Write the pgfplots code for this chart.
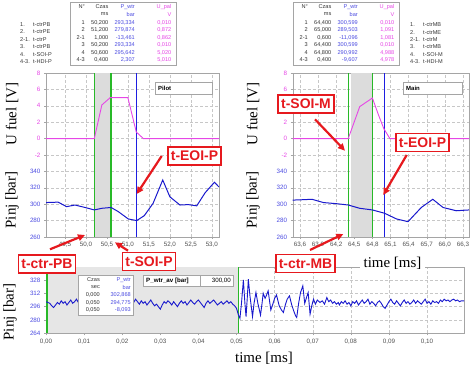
\documentclass[border=0pt]{standalone}
\usepackage{fontspec}
\setmainfont{Liberation Serif}
\newfontfamily\arial{Liberation Sans}
\usepackage{pgfplots}
\usepackage{pgfplotstable}
\pgfplotsset{compat=1.18}
\usetikzlibrary{arrows.meta}

\definecolor{pjblue}{RGB}{75,75,225}
\definecolor{ufmag}{RGB}{230,70,230}
\definecolor{trace}{RGB}{25,25,205}
\definecolor{gline}{RGB}{40,185,40}
\definecolor{bline}{RGB}{30,30,225}
\definecolor{annred}{RGB}{230,25,30}
\definecolor{framec}{RGB}{165,165,165}
\definecolor{ticktxt}{RGB}{80,80,80}
\definecolor{shadec}{RGB}{220,220,220}
\definecolor{shadeb}{RGB}{230,230,230}

\newcommand\tf{\arial\fontsize{6.3}{7}\selectfont}
\newcommand\tabf{\arial\fontsize{5.6}{6}\selectfont}
\newcommand\pj[1]{\textcolor{pjblue}{#1}}
\newcommand\uf[1]{\textcolor{ufmag}{#1}}

\pgfplotsset{panel/.style={scale only axis, axis line style={framec}, tick style={framec, line width=0.4pt},
  tick align=outside, major tick length=2bp, xtick pos=bottom, ytick pos=left,
  grid=major, major grid style={densely dashed, black!22, line width=0.35pt},
  ticklabel style={font=\tf},
  xticklabel style={text=ticktxt, /pgf/number format/fixed, /pgf/number format/fixed zerofill,
     /pgf/number format/use comma, /pgf/number format/assume math mode=true}}}

\pgfplotstableread{
t p
49.05 302
49.34 302.5
49.54 297
49.74 299
49.98 296
50.2 293
50.38 295
50.6 296
50.77 291
51.01 282
51.21 280
51.39 286
51.6 301
51.83 329.5
52.0 309
52.24 299
52.44 299.5
52.64 298
52.84 314
53.06 326.7
53.17 321
}\pilotP
\pgfplotstableread{
t u
49.05 0
50.2 0
50.38 4.1
50.58 5
51.0 5
51.2 0.8
51.37 0
53.17 0
}\pilotU
\pgfplotstableread{
t p
63.48 305
63.66 305.5
63.8 306
63.99 302
64.21 300.6
64.4 299
64.59 295
64.8 293
65.0 289
65.2 282
65.39 278.7
65.61 296
65.8 306
65.97 296
66.19 292
66.4 293
}\mainP
\pgfplotstableread{
t u
63.48 0
64.4 0
64.59 3.9
64.8 4.95
64.9 2.9
64.99 1.2
65.09 0
66.4 0
}\mainU
\pgfplotstableread{
t p
0.0000 302
0.0005 301
0.0010 300
0.0015 297
0.0020 295
0.0025 298
0.0030 301
0.0035 299
0.0040 303
0.0045 300
0.0050 302
0.0055 298
0.0060 301
0.0065 304
0.0070 300
0.0075 302
0.0080 305
0.0085 301
0.0090 299
0.0095 302
0.0100 300
0.0105 297
0.0110 301
0.0115 303
0.0120 299
0.0125 302
0.0130 305
0.0135 301
0.0140 298
0.0145 301
0.0150 303
0.0155 300
0.0160 302
0.0165 299
0.0170 296
0.0175 300
0.0180 302
0.0185 299
0.0190 301
0.0195 304
0.0200 301
0.0205 298
0.0210 300
0.0215 303
0.0220 300
0.0225 297
0.0230 301
0.0235 305
0.0240 302
0.0245 299
0.0250 303
0.0255 300
0.0260 302
0.0265 298
0.0270 301
0.0275 304
0.0280 300
0.0285 297
0.0290 299
0.0295 296
0.0300 293
0.0305 298
0.0310 302
0.0315 300
0.0320 303
0.0325 301
0.0330 298
0.0335 302
0.0340 299
0.0345 296
0.0350 300
0.0355 303
0.0360 300
0.0365 302
0.0370 298
0.0375 301
0.0380 304
0.0385 301
0.0390 299
0.0395 302
0.0400 304
0.0405 301
0.0410 298
0.0415 295
0.0420 300
0.0425 303
0.0430 300
0.0435 302
0.0440 304
0.0445 301
0.0450 298
0.0455 300
0.0460 302
0.0465 299
0.0470 301
0.0475 303
0.0480 300
0.0485 302
0.0490 299
0.0495 297
0.0500 294
0.0505 286
0.0509 282
0.0513 300
0.0518 328
0.0522 300
0.0525 284
0.0528 305
0.0531 329
0.0535 310
0.0542 284
0.0546 300
0.0551 313
0.0556 300
0.0563 286
0.0567 300
0.0570 312
0.0575 306
0.0578 309
0.0583 315
0.0590 292
0.0596 300
0.0600 306
0.0605 310
0.0612 297
0.0618 292
0.0623 289
0.0628 298
0.0633 305
0.0639 309
0.0645 298
0.0650 291
0.0655 285
0.0658 283
0.0663 300
0.0668 313
0.0674 321
0.0679 300
0.0683 306
0.0688 313
0.0693 287
0.0697 296
0.0702 305
0.0707 299
0.0712 304
0.0719 301
0.0725 303
0.0731 299
0.0737 307
0.0742 302
0.0747 304
0.0752 300
0.0757 302
0.0762 299
0.0767 301
0.0770 298
0.0775 302
0.0780 300
0.0785 303
0.0790 299
0.0795 301
0.0800 297
0.0805 302
0.0810 300
0.0815 303
0.0820 298
0.0825 301
0.0830 304
0.0835 300
0.0840 302
0.0845 305
0.0850 299
0.0855 302
0.0860 300
0.0865 297
0.0870 301
0.0875 303
0.0880 300
0.0885 296
0.0890 294
0.0895 298
0.0900 302
0.0905 305
0.0910 301
0.0915 299
0.0920 303
0.0925 300
0.0930 297
0.0935 301
0.0940 304
0.0945 300
0.0950 302
0.0955 299
0.0960 301
0.0965 304
0.0970 300
0.0975 303
0.0980 301
0.0985 299
0.0990 302
0.0995 305
0.1000 300
0.1005 302
0.1010 299
0.1015 303
0.1020 301
0.1025 302
0.1030 300
0.1035 304
0.1040 302
0.1045 305
0.1050 303
0.1055 304
0.1060 302
0.1065 304
0.1070 305
0.1075 303
0.1080 304
0.1085 302
0.1090 303
0.1097 303
}\bottomP

\newcommand\trow[6]{%
  \node[anchor=east,inner sep=0,font=\tabf,text=black!80] at ({#1+15},{381-#2}) {#3};
  \node[anchor=east,inner sep=0,font=\tabf,text=black!80] at ({#1+38.5},{381-#2}) {#4};
  \node[anchor=east,inner sep=0,font=\tabf,text=pjblue] at ({#1+65},{381-#2}) {#5};
  \node[anchor=east,inner sep=0,font=\tabf,text=ufmag] at ({#1+101.5},{381-#2}) {#6};}
\newcommand\lrow[4]{%
  \node[anchor=west,inner sep=0,font=\tabf,text=black!80] at (#1,{381-#2}) {#3};
  \node[anchor=west,inner sep=0,font=\tabf,text=black!80] at ({#1+13},{381-#2}) {#4};}

\tikzset{redbox/.style={draw=annred, line width=1.5bp, fill=white, text=annred,
   font=\arial\bfseries\fontsize{14}{14}\selectfont, inner xsep=3bp, inner ysep=4bp},
  redarr/.style={annred, line width=2.2bp, -{Triangle[length=7bp,width=6.5bp]}}}

\begin{document}
\begin{tikzpicture}
\path[use as bounding box] (0,0) rectangle (474bp,381bp);

% ---------- Pilot ----------
\begin{axis}[panel, at={(46bp,144bp)}, anchor=south west, width=173bp, height=164bp,
  xmin=49.05, xmax=53.17, ymin=260, ymax=460,
  xtick={49.5,50,50.5,51,51.5,52,52.5,53},
  xticklabel style={/pgf/number format/precision=1},
  ytick={260,280,300,320,340,360,380,400,420,440,460},
  yticklabels={\pj{260},\pj{280},\pj{300},\pj{320},\pj{340},\uf{-2},\uf{0},\uf{2},\uf{4},\uf{6},\uf{8}}]
\fill[shadec] (axis cs:50.2,260) rectangle (axis cs:50.6,460);
\draw[gline, line width=1.3bp] (axis cs:50.2,260) -- (axis cs:50.2,460);
\draw[gline, line width=1.3bp] (axis cs:50.6,260) -- (axis cs:50.6,460);
\draw[bline, line width=1.1bp] (axis cs:51.2,260) -- (axis cs:51.2,460);
\addplot[ufmag, line width=0.9bp] table[x=t, y expr=10*\thisrow{u}+380] {\pilotU};
\addplot[trace, line width=1bp] table[x=t, y=p] {\pilotP};
\end{axis}

% ---------- Main ----------
\begin{axis}[panel, at={(292.7bp,144bp)}, anchor=south west, width=176.3bp, height=164bp,
  xmin=63.48, xmax=66.4, ymin=260, ymax=460,
  xtick={63.6,63.9,64.2,64.5,64.8,65.1,65.4,65.7,66.0,66.3},
  xticklabel style={/pgf/number format/precision=1},
  ytick={260,280,300,320,340,360,380,400,420,440,460},
  yticklabels={\pj{260},\pj{280},\pj{300},\pj{320},\pj{340},\uf{-2},\uf{0},\uf{2},\uf{4},\uf{6},\uf{8}}]
\fill[shadec] (axis cs:64.45,260) rectangle (axis cs:64.8,460);
\draw[gline, line width=1.3bp] (axis cs:64.4,260) -- (axis cs:64.4,460);
\draw[gline, line width=1.3bp] (axis cs:64.8,260) -- (axis cs:64.8,460);
\draw[bline, line width=1.1bp] (axis cs:65.0,260) -- (axis cs:65.0,460);
\addplot[ufmag, line width=0.9bp] table[x=t, y expr=10*\thisrow{u}+380] {\mainU};
\addplot[trace, line width=1bp] table[x=t, y=p] {\mainP};
\end{axis}

% ---------- Bottom ----------
\begin{axis}[panel, at={(46bp,47.7bp)}, anchor=south west, width=418bp, height=66.6bp,
  xmin=0, xmax=0.1097, ymin=264, ymax=344,
  xtick={0,0.01,0.02,0.03,0.04,0.05,0.06,0.07,0.08,0.09,0.10},
  xticklabel style={/pgf/number format/precision=2},
  ytick={264,280,296,312,328},
  yticklabels={\pj{264},\pj{280},\pj{296},\pj{312},\pj{328}}]
\fill[shadeb] (axis cs:0,264) rectangle (axis cs:0.0505,344);
\draw[gline, line width=1.3bp] (axis cs:0.0003,264) -- (axis cs:0.0003,344);
\draw[gline, line width=1.3bp] (axis cs:0.0505,264) -- (axis cs:0.0505,344);
\addplot[trace, line width=0.9bp] table[x=t, y=p] {\bottomP};
\end{axis}

\begin{scope}[x=1bp,y=1bp]
% axis labels
\node[rotate=90, font=\fontsize{15}{15}\selectfont] at (12,267) {U fuel [V]};
\node[rotate=90, font=\fontsize{15}{15}\selectfont] at (12,181) {Pinj [bar]};
\node[rotate=90, font=\fontsize{15}{15}\selectfont] at (253,267) {U fuel [V]};
\node[rotate=90, font=\fontsize{15}{15}\selectfont] at (253,181) {Pinj [bar]};
\node[rotate=90, font=\fontsize{15}{15}\selectfont] at (10,69) {Pinj [bar]};
\node[fill=white, inner xsep=4bp, inner ysep=1bp, font=\fontsize{15}{15}\selectfont] at (392.5,118) {time [ms]};
\node[font=\fontsize{15}{15}\selectfont] at (264,23) {time [ms]};

% Pilot / Main boxes
\draw[framec, fill=white] (155,287) rectangle (212,299);
\node[anchor=west, inner sep=0, font=\arial\bfseries\fontsize{6}{6}\selectfont] at (158,293) {Pilot};
\draw[framec, fill=white] (403,287) rectangle (462,299);
\node[anchor=west, inner sep=0, font=\arial\bfseries\fontsize{6}{6}\selectfont] at (406,293) {Main};

% top-left table
\draw[framec, line width=0.6bp, fill=white] (70,316) rectangle (176,379);
\trow{70}{7}{N\textdegree}{Czas}{P\_wtr}{U\_pal}
\trow{70}{14.5}{}{ms}{bar}{V}
\trow{70}{22.5}{1}{50,200}{293,334}{0,010}
\trow{70}{30}{2}{51,200}{279,874}{0,872}
\trow{70}{37.5}{2-1}{1,000}{-13,461}{0,862}
\trow{70}{45}{3}{50,200}{293,334}{0,010}
\trow{70}{52.5}{4}{50,600}{295,642}{5,020}
\trow{70}{60}{4-3}{0,400}{2,307}{5,010}
\lrow{20}{24.5}{1.}{t-ctrPB}
\lrow{20}{32}{2.}{t-ctrPE}
\lrow{20}{39.5}{2-1.}{t-ctrP}
\lrow{20}{47}{3.}{t-ctrPB}
\lrow{20}{54.5}{4.}{t-SOI-P}
\lrow{20}{62}{4-3.}{t-HDI-P}

% top-right table
\draw[framec, line width=0.6bp, fill=white] (293,316) rectangle (399,379);
\trow{293}{7}{N\textdegree}{Czas}{P\_wtr}{U\_pal}
\trow{293}{14.5}{}{ms}{bar}{V}
\trow{293}{22.5}{1}{64,400}{300,599}{0,010}
\trow{293}{30}{2}{65,000}{289,503}{1,091}
\trow{293}{37.5}{2-1}{0,600}{-11,096}{1,081}
\trow{293}{45}{3}{64,400}{300,599}{0,010}
\trow{293}{52.5}{4}{64,800}{290,992}{4,988}
\trow{293}{60}{4-3}{0,400}{-9,607}{4,978}
\lrow{410}{25}{1.}{t-ctrMB}
\lrow{410}{32.3}{2.}{t-ctrME}
\lrow{410}{39.6}{2-1.}{t-ctrM}
\lrow{410}{46.9}{3.}{t-ctrMB}
\lrow{410}{54.2}{4.}{t-SOI-M}
\lrow{410}{61.5}{4-3.}{t-HDI-M}

% bottom inner table
\draw[framec, line width=0.6bp, fill=white] (78.3,66) rectangle (133.3,106);
\node[anchor=east,inner sep=0,font=\tabf,text=black!80] at (100,101) {Czas};
\node[anchor=east,inner sep=0,font=\tabf,text=pjblue] at (131,101) {P\_wtr};
\node[anchor=east,inner sep=0,font=\tabf,text=black!80] at (100,93.5) {sec};
\node[anchor=east,inner sep=0,font=\tabf,text=pjblue] at (131,93.5) {bar};
\node[anchor=east,inner sep=0,font=\tabf,text=black!80] at (100,86) {0,000};
\node[anchor=east,inner sep=0,font=\tabf,text=pjblue] at (131,86) {302,868};
\node[anchor=east,inner sep=0,font=\tabf,text=black!80] at (100,78.5) {0,050};
\node[anchor=east,inner sep=0,font=\tabf,text=pjblue] at (131,78.5) {294,775};
\node[anchor=east,inner sep=0,font=\tabf,text=black!80] at (100,71) {0,050};
\node[anchor=east,inner sep=0,font=\tabf,text=pjblue] at (131,71) {-8,093};
% P_wtr_av box
\draw[framec, line width=0.6bp, fill=white] (143.3,94.3) rectangle (233.3,106);
\draw[framec, line width=0.6bp] (200,94.3) -- (200,106);
\node[anchor=west,inner sep=0,font=\arial\bfseries\fontsize{6.2}{6.2}\selectfont] at (146,100.2) {P\_wtr\_av [bar]};
\node[anchor=east,inner sep=0,font=\arial\fontsize{6.2}{6.2}\selectfont] at (231,100.2) {300,00};

% red annotations
\draw[redarr] (161.7,225) -- (136.7,187);
\draw[redarr] (50,131.7) -- (85,146);
\draw[redarr] (128,130.3) -- (115,138.7);
\draw[redarr] (315,261.7) -- (345,230.3);
\draw[redarr] (406.7,226) -- (383.3,186);
\draw[redarr] (310,131) -- (343.3,147);
\node[redbox] at (194.5,225) {t-EOI-P};
\node[redbox] at (47,117) {t-ctr-PB};
\node[redbox] at (149,119.5) {t-SOI-P};
\node[redbox] at (306,277) {t-SOI-M};
\node[redbox] at (422.5,238.5) {t-EOI-P};
\node[redbox] at (305.5,117.5) {t-ctr-MB};
\end{scope}
\end{tikzpicture}
\end{document}
